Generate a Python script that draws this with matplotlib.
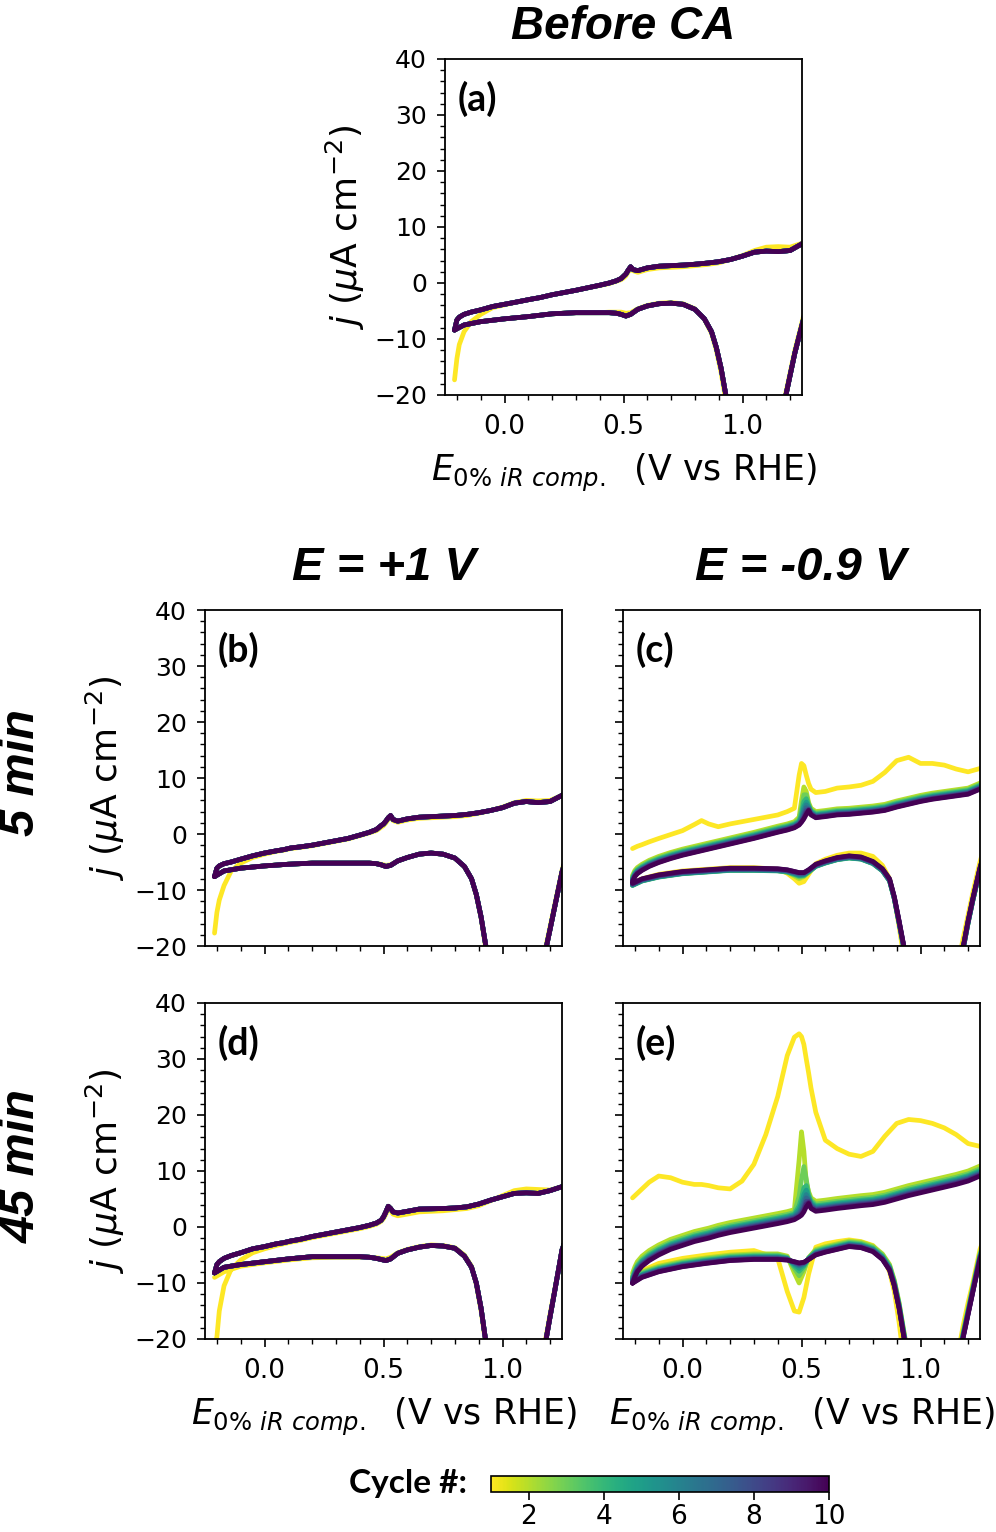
"""
CV cycles before / after chronoamperometry (CA)
5 panels + shared cycle-number colourbar
"""

import numpy as np
import matplotlib
matplotlib.use('Agg')
import matplotlib.pyplot as plt
from matplotlib.ticker import MultipleLocator
from matplotlib.colors import Normalize
from matplotlib.cm import ScalarMappable

# ── Potential grids (V vs RHE) ────────────────
# anodic (forward) sweep and cathodic (reverse) sweep
E_FWD = [-0.21, -0.20, -0.19, -0.17, -0.14, -0.10, -0.05, 0.0, 0.05, 0.08,
         0.11, 0.15, 0.20, 0.25, 0.30, 0.35, 0.40, 0.44, 0.47, 0.49,
         0.50, 0.51, 0.52, 0.53, 0.54, 0.56, 0.60, 0.65, 0.70, 0.75,
         0.80, 0.85, 0.90, 0.95, 1.00, 1.05, 1.10, 1.15, 1.20, 1.25, 1.28]
E_REV = [1.28, 1.25, 1.22, 1.20, 1.18, 1.12, 1.05, 0.98, 0.93, 0.91,
         0.89, 0.87, 0.84, 0.80, 0.75, 0.70, 0.65, 0.60, 0.56, 0.53,
         0.51, 0.49, 0.47, 0.44, 0.40, 0.30, 0.20, 0.10, 0.0, -0.10,
         -0.17, -0.21]
CYCLES = list(range(1, 11))

PEAK_IDX = slice(19, 25)   # E_FWD 0.49 ... 0.54
DIP_IDX = slice(19, 24)    # E_REV 0.53 ... 0.44

# ── (a) Before CA ─────────────────────────────
a_fwd_1 = [-17.3, -13.5, -11.0, -8.7, -6.9, -5.6, -4.4, -3.9, -3.4, -3.15,
           -2.9, -2.6, -2.1, -1.7, -1.3, -0.85, -0.45, -0.1, 0.3, 0.6,
           0.9, 1.3, 2.0, 2.5, 2.2, 1.9, 2.4, 2.7, 2.8, 2.9,
           3.1, 3.3, 3.6, 4.2, 4.9, 5.8, 6.4, 6.5, 6.4, 7.1, 8.0]
a_rev_1 = [-2.0, -7.0, -12.0, -16.0, -20.0, -32, -40, -32, -21, -16.0,
           -12.0, -9.0, -6.5, -4.6, -3.7, -3.5, -3.6, -4.0, -4.6, -5.3,
           -5.4, -5.2, -5.2, -5.2, -5.3, -5.3, -5.5, -6.0, -6.4, -6.9,
           -7.5, -8.4]
a_fwd = [-8.4, -6.6, -6.1, -5.6, -5.2, -4.8, -4.2, -3.8, -3.4, -3.15,
         -2.9, -2.6, -2.1, -1.7, -1.3, -0.85, -0.4, 0.0, 0.4, 0.8,
         1.2, 1.6, 2.3, 2.9, 2.4, 2.2, 2.7, 3.0, 3.1, 3.2,
         3.35, 3.55, 3.8, 4.2, 4.8, 5.5, 5.7, 5.6, 5.8, 7.0, 8.0]
a_rev = [-2.5, -7.5, -12.5, -16.5, -20.5, -32, -40, -32, -20, -15.2,
         -11.5, -8.7, -6.4, -4.7, -3.8, -3.6, -3.7, -4.1, -4.7, -5.6,
         -5.9, -5.6, -5.4, -5.3, -5.3, -5.3, -5.5, -6.0, -6.4, -6.9,
         -7.5, -8.4]

# ── (b) +1 V, 5 min ───────────────────────────
b_fwd_1 = [-17.7, -14.0, -11.8, -9.2, -6.6, -5.2, -4.2, -3.6, -3.1, -2.9,
           -2.6, -2.4, -2.1, -1.7, -1.3, -0.9, -0.3, 0.2, 0.6, 1.2,
           1.5, 2.0, 2.6, 3.0, 2.4, 2.1, 2.5, 2.8, 2.9, 3.0,
           3.1, 3.3, 3.7, 4.2, 4.8, 5.6, 6.0, 5.9, 6.0, 6.9, 7.8]
b_rev_1 = [-2.0, -6.5, -12.5, -16.5, -20.5, -32, -40, -32, -20.5, -15.0,
           -11.0, -8.0, -5.8, -4.3, -3.6, -3.4, -3.6, -4.2, -4.8, -5.5,
           -5.6, -5.4, -5.3, -5.2, -5.2, -5.2, -5.2, -5.4, -5.7, -6.1,
           -6.6, -7.6]
b_fwd = [-7.6, -6.1, -5.7, -5.3, -5.0, -4.5, -3.9, -3.4, -3.0, -2.8,
         -2.5, -2.3, -2.0, -1.6, -1.2, -0.8, -0.2, 0.3, 0.8, 1.5,
         1.8, 2.3, 2.9, 3.3, 2.6, 2.3, 2.7, 3.0, 3.1, 3.2,
         3.3, 3.5, 3.8, 4.2, 4.7, 5.5, 5.8, 5.6, 5.8, 6.9, 7.8]
b_rev = [-2.5, -6.8, -12.9, -17.0, -21.0, -32, -40, -32, -20, -14.8,
         -10.8, -8.0, -5.8, -4.3, -3.6, -3.4, -3.6, -4.2, -4.8, -5.6,
         -5.8, -5.5, -5.3, -5.2, -5.2, -5.2, -5.2, -5.4, -5.7, -6.1,
         -6.6, -7.6]

# ── (c) -0.9 V, 5 min ─────────────────────────
c_fwd_1 = [-2.6, -2.4, -2.2, -1.9, -1.4, -0.8, -0.1, 0.6, 1.7, 2.4,
           1.8, 1.3, 1.8, 2.2, 2.6, 3.0, 3.4, 4.0, 4.6, 10.5,
           12.6, 12.2, 10.5, 9.0, 8.0, 7.4, 7.6, 8.2, 8.4, 8.7,
           9.4, 11.0, 13.1, 13.7, 12.6, 12.6, 12.3, 11.6, 11.1, 11.7, 12.0]
c_rev_1 = [-0.5, -5.0, -10.5, -14.5, -18.5, -31, -40, -33, -22, -16.5,
           -11.5, -8.0, -5.6, -4.0, -3.4, -3.4, -3.8, -4.5, -5.3, -7.2,
           -8.5, -8.8, -8.0, -7.0, -6.3, -6.0, -6.0, -6.3, -6.6, -7.2,
           -8.0, -8.8]
c_fwd = [-8.5, -7.6, -7.1, -6.5, -5.8, -5.1, -4.4, -3.8, -3.3, -3.0,
         -2.7, -2.3, -1.8, -1.3, -0.8, -0.25, 0.3, 0.7, 1.1, 1.6,
         2.1, 2.7, 3.5, 4.2, 3.4, 2.9, 3.1, 3.4, 3.5, 3.7,
         3.9, 4.2, 4.8, 5.3, 5.8, 6.2, 6.5, 6.8, 7.1, 8.0, 8.5]
c_rev = [-1.5, -6.0, -11.5, -15.5, -20.0, -32, -40, -32, -20.0, -15.5,
         -11.2, -8.0, -6.2, -4.9, -4.1, -3.9, -4.2, -4.8, -5.4, -6.4,
         -6.9, -6.9, -6.7, -6.4, -6.2, -6.1, -6.1, -6.4, -6.7, -7.3,
         -8.0, -8.8]
# cycles 2..10: offset of the whole sweep + current around the 0.5 V features
c_fwd_shift = [1.1, 0.85, 0.65, 0.5, 0.38, 0.27, 0.17, 0.08, 0.0]
c_rev_shift = [-0.3, -0.35, -0.4, -0.35, -0.3, -0.2, -0.15, -0.05, 0.0]
c_peaks = [[3.0, 6.0, 8.4, 7.6, 5.6, 4.6],
           [2.6, 4.6, 7.0, 7.0, 5.3, 4.3],
           [2.3, 3.7, 5.8, 6.3, 5.1, 4.1],
           [2.1, 3.1, 4.9, 5.7, 4.9, 3.9],
           [2.0, 2.8, 4.2, 5.2, 4.7, 3.8],
           [1.9, 2.5, 3.6, 4.7, 4.5, 3.7],
           [1.8, 2.3, 3.1, 4.2, 4.4, 3.6],
           [1.7, 2.2, 2.9, 3.8, 4.3, 3.5],
           [1.6, 2.1, 2.7, 3.5, 4.2, 3.4]]
c_dips = [[-6.8, -7.6, -8.0, -7.5, -6.8],
          [-6.8, -7.5, -7.7, -7.3, -6.8],
          [-6.8, -7.4, -7.5, -7.2, -6.8],
          [-6.7, -7.3, -7.4, -7.1, -6.7],
          [-6.6, -7.2, -7.3, -7.0, -6.6],
          [-6.5, -7.1, -7.1, -6.9, -6.6],
          [-6.5, -7.0, -7.0, -6.8, -6.5],
          [-6.4, -6.9, -6.9, -6.7, -6.4],
          [-6.4, -6.9, -6.9, -6.7, -6.4]]

# ── (d) +1 V, 45 min ──────────────────────────
d_fwd_1 = [-22.0, -19.6, -15.0, -10.5, -7.5, -5.9, -4.6, -3.9, -3.3, -3.0,
           -2.7, -2.4, -1.9, -1.5, -1.1, -0.7, -0.3, 0.1, 0.5, 1.0,
           1.5, 2.3, 3.3, 3.0, 2.3, 2.0, 2.3, 2.7, 2.8, 2.9,
           3.1, 3.3, 3.8, 4.7, 5.6, 6.5, 6.8, 6.7, 6.6, 7.2, 7.8]
d_rev_1 = [-0.5, -4.5, -11.0, -15.5, -20.3, -32, -40, -32, -21.0, -15.0,
           -10.3, -7.0, -5.0, -3.7, -3.3, -3.2, -3.5, -4.0, -4.6, -5.4,
           -5.7, -5.6, -5.5, -5.4, -5.4, -5.4, -5.5, -5.9, -6.4, -7.0,
           -8.0, -9.0]
d_fwd = [-8.2, -6.7, -6.2, -5.6, -5.1, -4.6, -3.9, -3.5, -3.0, -2.8,
         -2.5, -2.2, -1.7, -1.3, -0.9, -0.5, -0.1, 0.3, 0.7, 1.2,
         1.8, 2.7, 3.7, 3.3, 2.7, 2.5, 2.8, 3.2, 3.25, 3.3,
         3.4, 3.6, 4.1, 4.8, 5.4, 6.0, 6.1, 6.0, 6.5, 7.2, 7.8]
d_rev = [-0.5, -4.1, -11.3, -16.0, -20.8, -32, -40, -32, -20.5, -14.5,
         -10.0, -7.2, -5.2, -3.8, -3.4, -3.3, -3.6, -4.1, -4.7, -5.7,
         -6.0, -5.8, -5.6, -5.4, -5.3, -5.3, -5.3, -5.7, -6.2, -6.7,
         -7.2, -8.2]

# ── (e) -0.9 V, 45 min ────────────────────────
e_fwd_1 = [5.2, 5.6, 6.0, 6.8, 8.0, 9.1, 8.8, 8.0, 7.6, 7.6,
           7.4, 7.0, 6.8, 8.2, 11.2, 16.5, 23.3, 30.6, 33.9, 34.5,
           34.0, 32.6, 30.0, 27.5, 24.8, 20.5, 15.5, 14.0, 13.0, 12.6,
           13.5, 16.2, 18.5, 19.2, 19.0, 18.5, 17.7, 16.5, 14.9, 14.4, 14.2]
e_rev_1 = [-0.5, -4.0, -10.0, -13.5, -17.5, -31, -40, -33, -24, -17.0,
           -11.5, -8.0, -5.2, -3.3, -2.6, -2.3, -2.6, -3.0, -3.6, -8.4,
           -12.6, -15.2, -15.0, -11.5, -5.6, -4.2, -4.5, -5.0, -5.6, -6.5,
           -7.8, -8.9]
e_fwd = [-10.05, -8.9, -8.0, -7.0, -6.0, -5.0, -4.0, -3.3, -2.6, -2.3,
         -2.0, -1.5, -1.0, -0.6, -0.2, 0.2, 0.6, 0.95, 1.3, 1.8,
         2.1, 2.7, 3.6, 4.2, 3.3, 2.8, 3.0, 3.3, 3.55, 3.8,
         4.0, 4.4, 5.0, 5.6, 6.1, 6.6, 7.1, 7.6, 8.2, 9.1, 9.6]
e_rev = [-1.5, -5.7, -11.6, -15.6, -19.6, -32, -40, -32, -19.6, -14.5,
         -10.5, -7.7, -5.8, -4.4, -3.7, -3.5, -4.0, -4.5, -5.0, -5.8,
         -6.3, -6.4, -6.2, -5.9, -5.8, -5.8, -6.0, -6.5, -7.1, -8.0,
         -9.0, -10.05]
e_fwd_shift = [1.8, 1.3, 1.0, 0.8, 0.6, 0.45, 0.3, 0.15, 0.0]
e_rev_shift = [1.0, 0.8, 0.6, 0.45, 0.35, 0.25, 0.15, 0.05, 0.0]
e_peaks = [[12.0, 17.0, 13.5, 8.0, 6.3, 5.2],
           [5.5, 8.5, 10.8, 8.5, 6.0, 4.8],
           [3.8, 5.2, 7.0, 7.4, 5.6, 4.5],
           [3.2, 4.2, 5.8, 6.6, 5.3, 4.2],
           [2.7, 3.5, 4.8, 5.8, 5.0, 4.0],
           [2.4, 3.0, 4.0, 5.2, 4.8, 3.8],
           [2.1, 2.6, 3.4, 4.6, 4.6, 3.6],
           [1.9, 2.3, 3.0, 4.1, 4.4, 3.4],
           [1.8, 2.1, 2.7, 3.6, 4.2, 3.3]]
e_dips = [[-5.5, -8.0, -10.0, -8.2, -5.2],
          [-5.5, -7.4, -8.7, -7.4, -5.4],
          [-5.6, -7.0, -7.9, -7.0, -5.5],
          [-5.6, -6.8, -7.4, -6.7, -5.6],
          [-5.7, -6.6, -7.0, -6.5, -5.7],
          [-5.7, -6.5, -6.8, -6.4, -5.7],
          [-5.8, -6.4, -6.6, -6.3, -5.8],
          [-5.8, -6.3, -6.5, -6.2, -5.9],
          [-5.8, -6.3, -6.4, -6.2, -5.9]]


# ════════════════════════════════════════════
# HELPERS
# ════════════════════════════════════════════
def build_cycles(fwd_1, rev_1, fwd, rev, fwd_shift=None, rev_shift=None,
                 peaks=None, dips=None):
    """Return list of (E, j) for cycles 1..10."""
    E = np.r_[E_FWD, E_REV]
    out = [(E, np.r_[fwd_1, rev_1])]
    for i in range(9):
        f = np.array(fwd, float)
        r = np.array(rev, float)
        if fwd_shift is not None:
            f = f + fwd_shift[i]
            f[PEAK_IDX] = peaks[i]
        if rev_shift is not None:
            r = r + rev_shift[i]
            r[DIP_IDX] = dips[i]
        out.append((E, np.r_[f, r]))
    return out


def style_axes(ax, show_x=True, show_y=True):
    ax.set_xlim(-0.25, 1.25)
    ax.set_ylim(-20, 40)
    ax.xaxis.set_major_locator(MultipleLocator(0.5))
    ax.xaxis.set_minor_locator(MultipleLocator(0.1))
    ax.yaxis.set_major_locator(MultipleLocator(10))
    ax.yaxis.set_minor_locator(MultipleLocator(2))
    ax.tick_params(axis='x', which='major', labelsize=19, length=6, width=1.2, pad=8)
    ax.tick_params(axis='y', which='major', labelsize=18, length=6, width=1.2, pad=7)
    ax.tick_params(which='minor', length=3.5, width=1.0)
    for s in ax.spines.values():
        s.set_linewidth(1.3)
    if show_x:
        ax.set_xlabel(r'$E_{0\%\ iR\ comp.}$  (V vs RHE)', fontsize=25, labelpad=8.5)
    else:
        ax.tick_params(axis='x', labelbottom=False)
    if show_y:
        ax.set_ylabel(r'$j$ ($\mu$A cm$^{-2}$)', fontsize=26, labelpad=5)
    else:
        ax.tick_params(axis='y', labelleft=False)


cmap = plt.get_cmap('viridis_r')
norm = Normalize(vmin=1, vmax=10)


def plot_panel(ax, cycles, letter, show_x=True, show_y=True):
    for k, (E, j) in zip(CYCLES, cycles):
        ax.plot(E, j, color=cmap(norm(k)), lw=3.4, solid_capstyle='round',
                solid_joinstyle='round')
    ax.text(0.035, 0.935, letter, transform=ax.transAxes, ha='left', va='top',
            fontsize=27, fontweight='bold', family='Lato')
    style_axes(ax, show_x, show_y)


# ════════════════════════════════════════════
# FIGURE
# ════════════════════════════════════════════
W, H = 996, 1532
fig = plt.figure(figsize=(W / 100, H / 100), dpi=100)


def px_axes(x0, y0, x1, y1):
    return fig.add_axes([x0 / W, 1 - y1 / H, (x1 - x0) / W, (y1 - y0) / H])


ax_a = px_axes(445, 59, 802, 395)
ax_b = px_axes(205, 610, 562, 946)
ax_c = px_axes(623, 610, 980, 946)
ax_d = px_axes(205, 1003, 562, 1339)
ax_e = px_axes(623, 1003, 980, 1339)

plot_panel(ax_a, build_cycles(a_fwd_1, a_rev_1, a_fwd, a_rev), '(a)')
plot_panel(ax_b, build_cycles(b_fwd_1, b_rev_1, b_fwd, b_rev), '(b)', show_x=False)
plot_panel(ax_c, build_cycles(c_fwd_1, c_rev_1, c_fwd, c_rev, c_fwd_shift,
                              c_rev_shift, c_peaks, c_dips),
           '(c)', show_x=False, show_y=False)
plot_panel(ax_d, build_cycles(d_fwd_1, d_rev_1, d_fwd, d_rev), '(d)')
plot_panel(ax_e, build_cycles(e_fwd_1, e_rev_1, e_fwd, e_rev, e_fwd_shift,
                              e_rev_shift, e_peaks, e_dips),
           '(e)', show_y=False)

# ── Titles / row labels ──
title_kw = dict(fontweight='bold', fontstyle='italic', family='Liberation Sans')
fig.text(623.5 / W, 1 - 39 / H, 'Before CA', ha='center', va='baseline',
         fontsize=33, **title_kw)
fig.text(383.5 / W, 1 - 580 / H, 'E = +1 V', ha='center', va='baseline',
         fontsize=34, **title_kw)
fig.text(800.5 / W, 1 - 580 / H, 'E = -0.9 V', ha='center', va='baseline',
         fontsize=34, **title_kw)
fig.text(22 / W, 1 - 773 / H, '5 min', rotation=90, ha='center', va='center',
         fontsize=35, **title_kw)
fig.text(22 / W, 1 - 1166 / H, '45 min', rotation=90, ha='center', va='center',
         fontsize=35, **title_kw)

# ── Colourbar ──
cax = px_axes(491, 1476, 829, 1492)
cb = fig.colorbar(ScalarMappable(norm=norm, cmap=cmap), cax=cax,
                  orientation='horizontal', ticks=[2, 4, 6, 8, 10])
cb.ax.tick_params(labelsize=19, length=6, width=1.2, pad=3)
cb.outline.set_linewidth(1.2)
fig.text(467 / W, 1 - 1484 / H, 'Cycle #:', ha='right', va='center',
         fontsize=24, fontweight='bold', family='Lato')

fig.savefig('out.png', dpi=100)
print("saved out.png")
